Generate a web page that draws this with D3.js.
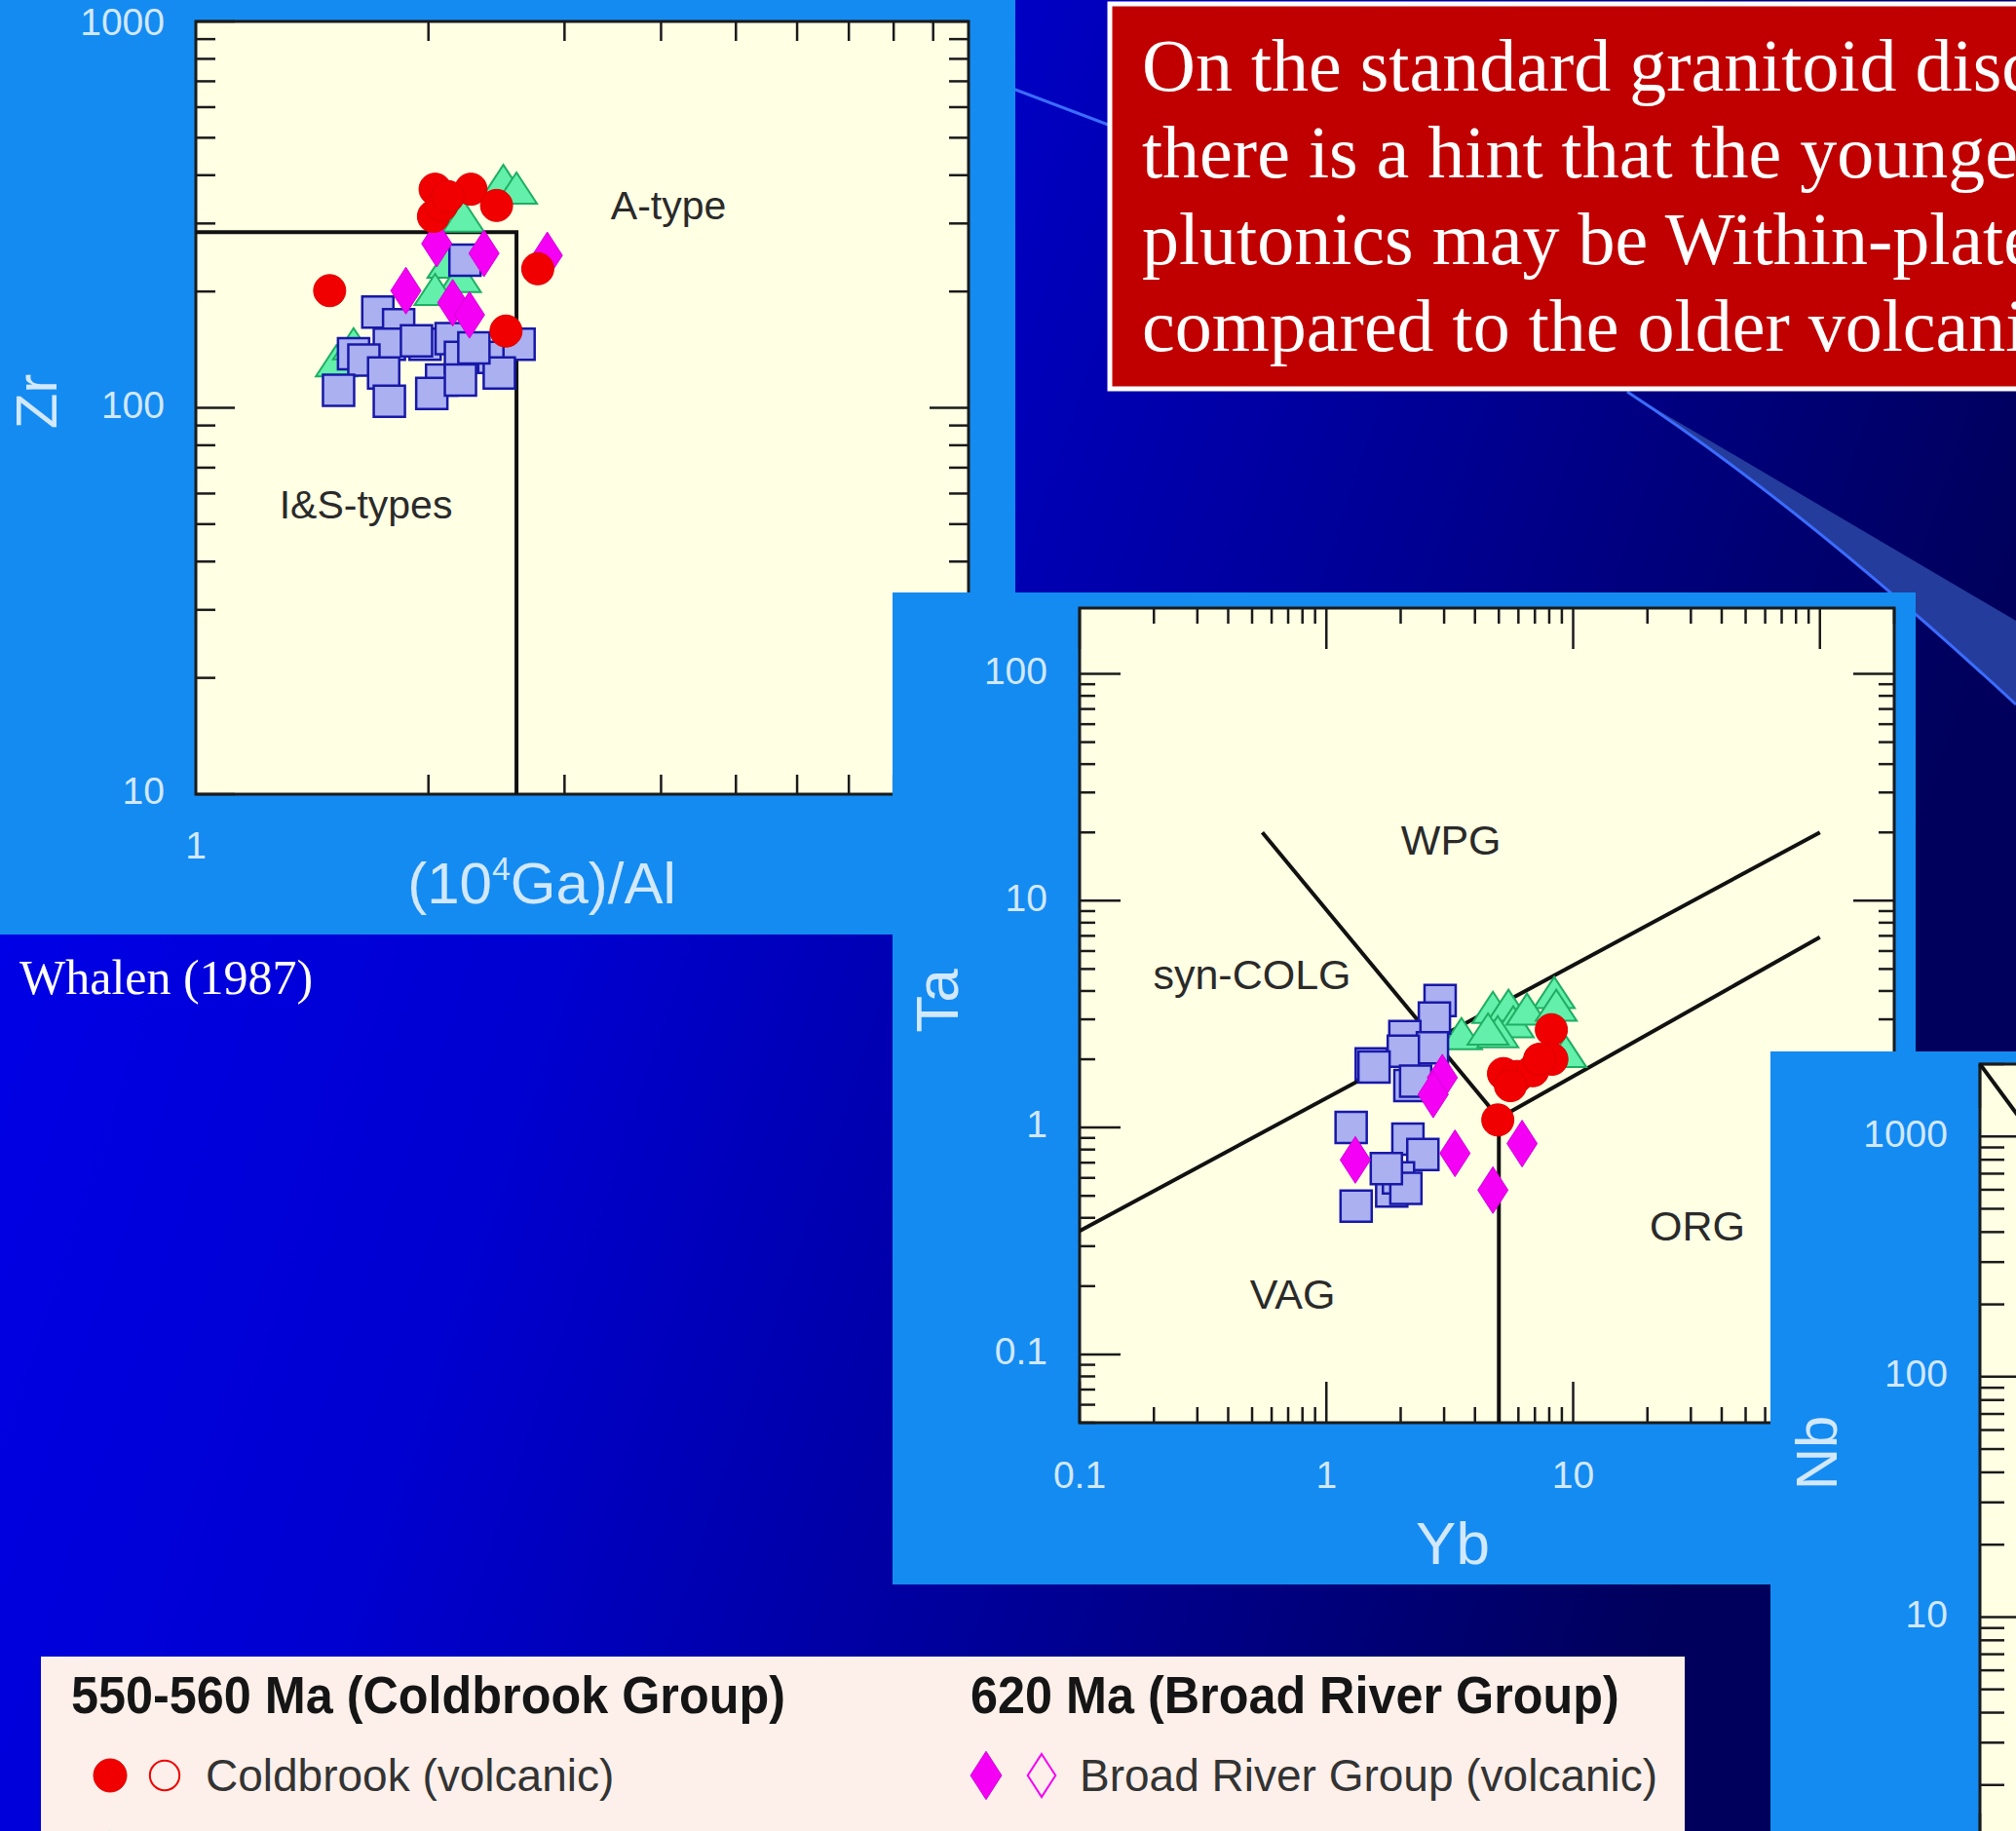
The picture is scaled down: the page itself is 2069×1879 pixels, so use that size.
<!DOCTYPE html>
<html>
<head>
<meta charset="utf-8">
<script src="https://d3js.org/d3.v7.min.js"></script>
<style>
body { margin: 0; overflow: hidden; background: #000080; }
</style>
</head>
<body>
<div id="viz"></div>
<script>
var width = 2069
var height = 1879

// Whalen (1987): Zr vs (10^4 Ga)/Al
var whalenTriangles = [[2.50,381],[2.60,364],[2.22,308],[2.12,234],[2.20,215],[2.04,199],[1.54,134],[1.52,130],[1.60,144]];
var whalenSquares = [[2.23,241],[1.72,177],[1.83,164],[1.78,146],[1.60,138],[1.65,133],[1.53,111],[1.75,123],[1.78,104],[1.98,146],
    [2.14,151],[2.08,118],[2.02,109],[2.20,135],[2.20,118],[2.43,135],[2.62,146],[2.47,123],[2.29,143],[1.93,149]];
var whalenDiamonds = [[2.05,266],[2.36,251],[1.87,201],[2.15,187],[2.26,174],[2.85,248]];
var whalenCircles = [[2.04,368],[2.27,368],[2.45,334],[2.03,313],[2.08,334],[2.12,352],[1.49,201],[2.77,229],[2.52,158]];
var whalenBoundary = [[1,285],[2.6,285],[2.6,10]];
var whalenYTicks = [10,100,1000];
var whalenXTicks = [1,10];

// Pearce et al.: Ta vs Yb
var pearceTriangles = [[3.53,2.52],[4.73,3.29],[5.47,3.36],[5.72,2.84],[4.95,2.57],[8.38,3.82],[6.50,3.23],[9.35,2.10],[8.54,3.36],[4.52,2.64]];
var pearceSquares = [[2.89,3.63],[2.74,3.04],[2.08,2.52],[2.69,2.25],[2.05,2.17],[1.52,1.91],[1.56,1.85],[2.18,1.53],[2.30,1.60],
    [1.26,1.00],[2.14,0.89],[2.46,0.76],[1.84,0.525],[1.32,0.45],[1.96,0.60],[2.10,0.54],[1.75,0.66]];
var pearceDiamonds = [[2.95,1.66],[2.71,1.40],[1.31,0.72],[3.32,0.77],[6.21,0.85],[4.73,0.53]];
var pearceCircles = [[8.16,2.70],[8.2,2.00],[5.22,1.73],[5.93,1.68],[6.86,1.78],[7.31,2.00],[5.57,1.53],[4.95,1.08]];
var pearceLines = [[[0.1,0.35],[100,20]], [[0.55,20],[5,1.1]], [[5,1.1],[5,0.05]], [[5,1.1],[100,6.9]]];
var pearceXTicks = [0.1,1,10,100];
var pearceYTicks = [0.1,1,10,100];

// Nb vs Y (only the left edge shows)
var nbLines = [[[1,2000],[50,10]]];
var nbYTicks = [10,100,1000];

var noteLines = ["On the standard granitoid discrimination diagrams,", "there is a hint that the younger",
    "plutonics may be Within-plate", "compared to the older volcanics."];
var legendHeaders = ["550-560 Ma (Coldbrook Group)", "620 Ma (Broad River Group)"];
var legendRows = [["Coldbrook (volcanic)", "Broad River Group (volcanic)"], ["Coldbrook (plutonic)", "Broad River Group (plutonic)"]];

var panelBlue = "#148bf1";
var labelBlue = "#d2e8ff";
var sans = "'Liberation Sans', Arial, sans-serif";
var serif = "'Liberation Serif', 'Times New Roman', serif";

var svg = d3
    .select("#viz")
    .append("svg")
    .attr("width", width)
    .attr("height", height)
    .style("font-family", sans);

var defs = svg.append("defs");
var grad = defs.append("linearGradient").attr("id", "bg").attr("x1", 0).attr("x2", 1).attr("y1", 0).attr("y2", 0.3);
grad.append("stop").attr("offset", 0).attr("stop-color", "#0000f2");
grad.append("stop").attr("offset", 0.4).attr("stop-color", "#0000d0");
grad.append("stop").attr("offset", 0.75).attr("stop-color", "#00008e");
grad.append("stop").attr("offset", 1).attr("stop-color", "#00005c");

svg.append("rect").attr("width", width).attr("height", height).attr("fill", "url(#bg)");

// decorative swoosh from the slide template
svg.append("path")
    .attr("d", "M1700,420 L2069,637 L2069,723 Q1850,520 1670,402 Z")
    .attr("fill", "#243c9c");
svg.append("path")
    .attr("d", "M1670,402 Q1850,520 2069,723")
    .attr("fill", "none")
    .attr("stroke", "#3b6cff")
    .attr("stroke-width", 3);
svg.append("line")
    .attr("x1", 1000).attr("y1", 76).attr("x2", 1140).attr("y2", 129)
    .attr("stroke", "#3b6cff").attr("stroke-width", 3);

function logTicks(lo, hi) {
    var out = [];
    var e0 = Math.floor(Math.log10(lo)), e1 = Math.ceil(Math.log10(hi));
    for (var e = e0; e <= e1; e++) {
        for (var m = 1; m < 10; m++) {
            var v = m * Math.pow(10, e);
            if (v >= lo * 0.999 && v <= hi * 1.001) out.push({v: v, major: m == 1});
        }
    }
    return out;
}

function drawFrame(g, xs, ys, o) {
    var x0 = xs.range()[0], x1 = xs.range()[1];
    var y0 = ys.range()[1], y1 = ys.range()[0];
    g.append("rect")
        .attr("x", x0).attr("y", y0)
        .attr("width", x1 - x0).attr("height", y1 - y0)
        .attr("fill", "#ffffe4");
    var tk = g.append("g").attr("stroke", "#1a1a1a").attr("stroke-width", 2.5);
    logTicks(xs.domain()[0], xs.domain()[1]).forEach(function (t) {
        var x = xs(t.v), len = t.major ? o.xMaj : o.xMin;
        tk.append("line").attr("x1", x).attr("x2", x).attr("y1", y0).attr("y2", y0 + len);
        tk.append("line").attr("x1", x).attr("x2", x).attr("y1", y1).attr("y2", y1 - len);
    });
    logTicks(ys.domain()[0], ys.domain()[1]).forEach(function (t) {
        var y = ys(t.v), len = t.major ? o.yMaj : o.yMin;
        tk.append("line").attr("y1", y).attr("y2", y).attr("x1", x0).attr("x2", x0 + len);
        tk.append("line").attr("y1", y).attr("y2", y).attr("x1", x1).attr("x2", x1 - len);
    });
    g.append("rect")
        .attr("x", x0).attr("y", y0)
        .attr("width", x1 - x0).attr("height", y1 - y0)
        .attr("fill", "none")
        .attr("stroke", "#1a1a1a")
        .attr("stroke-width", 3);
}

function drawLines(g, lines, xs, ys) {
    var line = d3.line().x(function (d) { return xs(d[0]); }).y(function (d) { return ys(d[1]); });
    lines.forEach(function (l) {
        g.append("path")
            .attr("d", line(l))
            .attr("fill", "none")
            .attr("stroke", "#111")
            .attr("stroke-width", 4);
    });
}

function shapePath(shape, s) {
    if (shape == "diamond") return "M0," + (-24 * s) + "L" + (15.5 * s) + ",0L0," + (24 * s) + "L" + (-15.5 * s) + ",0Z";
    if (shape == "triangle") return "M0," + (-19 * s) + "L" + (21 * s) + "," + (13 * s) + "L" + (-21 * s) + "," + (13 * s) + "Z";
    if (shape == "square") return "M" + (-16 * s) + "," + (-16 * s) + "h" + (32 * s) + "v" + (32 * s) + "h" + (-32 * s) + "Z";
    return d3.symbol().type(d3.symbolCircle).size(Math.PI * 16.5 * 16.5 * s * s)();
}

var markStyle = {
    triangle: {fill: "#62f0aa", stroke: "#1fae63", sw: 2},
    square: {fill: "#aab0f0", stroke: "#1818a8", sw: 2.5},
    diamond: {fill: "#f400f4", stroke: "#d600d6", sw: 1},
    circle: {fill: "#f00000", stroke: "#e00000", sw: 1}
};

function drawPoints(g, data, shape, xs, ys) {
    var st = markStyle[shape];
    g.append("g").selectAll("path")
        .data(data)
        .enter()
        .append("path")
        .attr("transform", function (d) { return "translate(" + xs(d[0]) + "," + ys(d[1]) + ")"; })
        .attr("d", shapePath(shape, 1))
        .attr("fill", st.fill)
        .attr("stroke", st.stroke)
        .attr("stroke-width", st.sw);
}

function regionLabel(g, txt, x, y, size) {
    g.append("text")
        .attr("x", x).attr("y", y)
        .attr("text-anchor", "middle")
        .attr("dominant-baseline", "middle")
        .attr("font-size", size)
        .attr("fill", "#2a2a2a")
        .text(txt);
}

function tickLabel(g, txt, x, y, anchor) {
    g.append("text")
        .attr("x", x).attr("y", y)
        .attr("text-anchor", anchor)
        .attr("dominant-baseline", "middle")
        .attr("font-size", 39)
        .attr("fill", labelBlue)
        .text(txt);
}

function fmt(v) { return v < 1 ? String(v) : d3.format("d")(v); }

// ---------- chart 1 : Whalen ----------
var c1 = svg.append("g");
c1.append("rect").attr("x", 0).attr("y", 0).attr("width", 1042).attr("height", 959).attr("fill", panelBlue);
var x1s = d3.scaleLog().domain([1, 10]).range([201, 994]);
var y1s = d3.scaleLog().domain([10, 1000]).range([815, 22]);
drawFrame(c1, x1s, y1s, {xMaj: 0, xMin: 20, yMaj: 40, yMin: 20});
drawLines(c1, [whalenBoundary], x1s, y1s);
regionLabel(c1, "A-type", x1s(4.09), y1s(328), 41);
regionLabel(c1, "I&S-types", x1s(1.66), y1s(55), 41);
drawPoints(c1, whalenTriangles, "triangle", x1s, y1s);
drawPoints(c1, whalenSquares, "square", x1s, y1s);
drawPoints(c1, whalenDiamonds, "diamond", x1s, y1s);
drawPoints(c1, whalenCircles, "circle", x1s, y1s);
whalenYTicks.forEach(function (v) { tickLabel(c1, fmt(v), 169, y1s(v) + (v == 1000 ? 4 : 0), "end"); });
whalenXTicks.forEach(function (v) { tickLabel(c1, fmt(v), x1s(v), 871, "middle"); });
c1.append("text")
    .attr("transform", "translate(58,412) rotate(-90)")
    .attr("text-anchor", "middle")
    .attr("font-size", 60)
    .attr("fill", labelBlue)
    .text("Zr");
var t1 = c1.append("text")
    .attr("x", 556).attr("y", 927)
    .attr("text-anchor", "middle")
    .attr("font-size", 60)
    .attr("fill", labelBlue);
t1.append("tspan").text("(10");
t1.append("tspan").attr("dy", -24).attr("font-size", 34).text("4");
t1.append("tspan").attr("dy", 24).text("Ga)/Al");

svg.append("text")
    .attr("x", 20).attr("y", 1020)
    .style("font-family", serif)
    .attr("font-size", 50)
    .attr("fill", "#ffffff")
    .text("Whalen (1987)");

// ---------- chart 2 : Pearce Ta-Yb ----------
var c2 = svg.append("g");
c2.append("rect").attr("x", 916).attr("y", 608).attr("width", 1050).attr("height", 1018).attr("fill", panelBlue);
var x2s = d3.scaleLog().domain([0.1, 200]).range([1108, 1944]);
var y2s = d3.scaleLog().domain([0.05, 195]).range([1460, 624]);
drawFrame(c2, x2s, y2s, {xMaj: 42, xMin: 16, yMaj: 42, yMin: 16});
drawLines(c2, pearceLines, x2s, y2s);
regionLabel(c2, "WPG", x2s(3.2), y2s(17.8), 43);
regionLabel(c2, "syn-COLG", x2s(0.5), y2s(4.57), 43);
regionLabel(c2, "VAG", x2s(0.73), y2s(0.178), 43);
regionLabel(c2, "ORG", x2s(31.9), y2s(0.356), 43);
drawPoints(c2, pearceTriangles, "triangle", x2s, y2s);
drawPoints(c2, pearceSquares, "square", x2s, y2s);
drawPoints(c2, pearceDiamonds, "diamond", x2s, y2s);
drawPoints(c2, pearceCircles, "circle", x2s, y2s);
pearceYTicks.forEach(function (v) { tickLabel(c2, fmt(v), 1075, y2s(v), "end"); });
pearceXTicks.forEach(function (v) { tickLabel(c2, fmt(v), x2s(v), 1517, "middle"); });
c2.append("text")
    .attr("transform", "translate(983,1027) rotate(-90)")
    .attr("text-anchor", "middle")
    .attr("font-size", 62)
    .attr("fill", labelBlue)
    .text("Ta");
c2.append("text")
    .attr("x", 1491).attr("y", 1605)
    .attr("text-anchor", "middle")
    .attr("font-size", 62)
    .attr("fill", labelBlue)
    .text("Yb");

// ---------- chart 3 : Nb-Y (cut off) ----------
var c3 = svg.append("g");
c3.append("rect").attr("x", 1817).attr("y", 1079).attr("width", 260).attr("height", 800).attr("fill", panelBlue);
var x3s = d3.scaleLog().domain([1, 2000]).range([2032, 2846]);
var y3s = d3.scaleLog().domain([1, 2000]).range([1906, 1092]);
drawFrame(c3, x3s, y3s, {xMaj: 45, xMin: 25, yMaj: 45, yMin: 25});
drawLines(c3, nbLines, x3s, y3s);
nbYTicks.forEach(function (v) { tickLabel(c3, fmt(v), 1999, y3s(v), "end"); });
c3.append("text")
    .attr("transform", "translate(1885,1491) rotate(-90)")
    .attr("text-anchor", "middle")
    .attr("font-size", 60)
    .attr("fill", labelBlue)
    .text("Nb");

// ---------- note box ----------
svg.append("rect")
    .attr("x", 1139).attr("y", 4)
    .attr("width", 1000).attr("height", 395)
    .attr("fill", "#c00000")
    .attr("stroke", "#ffffff")
    .attr("stroke-width", 5);
svg.selectAll(".note")
    .data(noteLines)
    .enter()
    .append("text")
    .attr("class", "note")
    .attr("x", 1172)
    .attr("y", function (d, i) { return 93 + i * 89; })
    .style("font-family", serif)
    .attr("font-size", 76)
    .attr("fill", "#ffffff")
    .text(function (d) { return d; });

// ---------- legend ----------
var lg = svg.append("g");
lg.append("rect").attr("x", 42).attr("y", 1700).attr("width", 1687).attr("height", 200).attr("fill", "#fdf0ea");
var colX = [73, 996];
legendHeaders.forEach(function (h, i) {
    lg.append("text")
        .attr("transform", "translate(" + colX[i] + ",1758) scale(0.95,1)")
        .attr("font-size", 53)
        .attr("font-weight", "bold")
        .attr("fill", "#151515")
        .text(h);
});
var rowY = [1822, 1900];
var rowShapes = [["circle", "diamond"], ["triangle", "square"]];
var symX = [[113, 169], [1012, 1069]];
legendRows.forEach(function (row, r) {
    row.forEach(function (label, c) {
        var shape = rowShapes[r][c];
        var st = markStyle[shape];
        lg.append("path")
            .attr("transform", "translate(" + symX[c][0] + "," + rowY[r] + ")")
            .attr("d", shapePath(shape, 1.03))
            .attr("fill", st.fill)
            .attr("stroke", st.stroke)
            .attr("stroke-width", st.sw);
        lg.append("path")
            .attr("transform", "translate(" + symX[c][1] + "," + rowY[r] + ")")
            .attr("d", shapePath(shape, 0.92))
            .attr("fill", "none")
            .attr("stroke", st.fill)
            .attr("stroke-width", 2);
        lg.append("text")
            .attr("x", c == 0 ? 211 : 1108)
            .attr("y", rowY[r] + 16)
            .attr("font-size", 46)
            .attr("fill", "#333333")
            .text(label);
    });
});
</script>
</body>
</html>
